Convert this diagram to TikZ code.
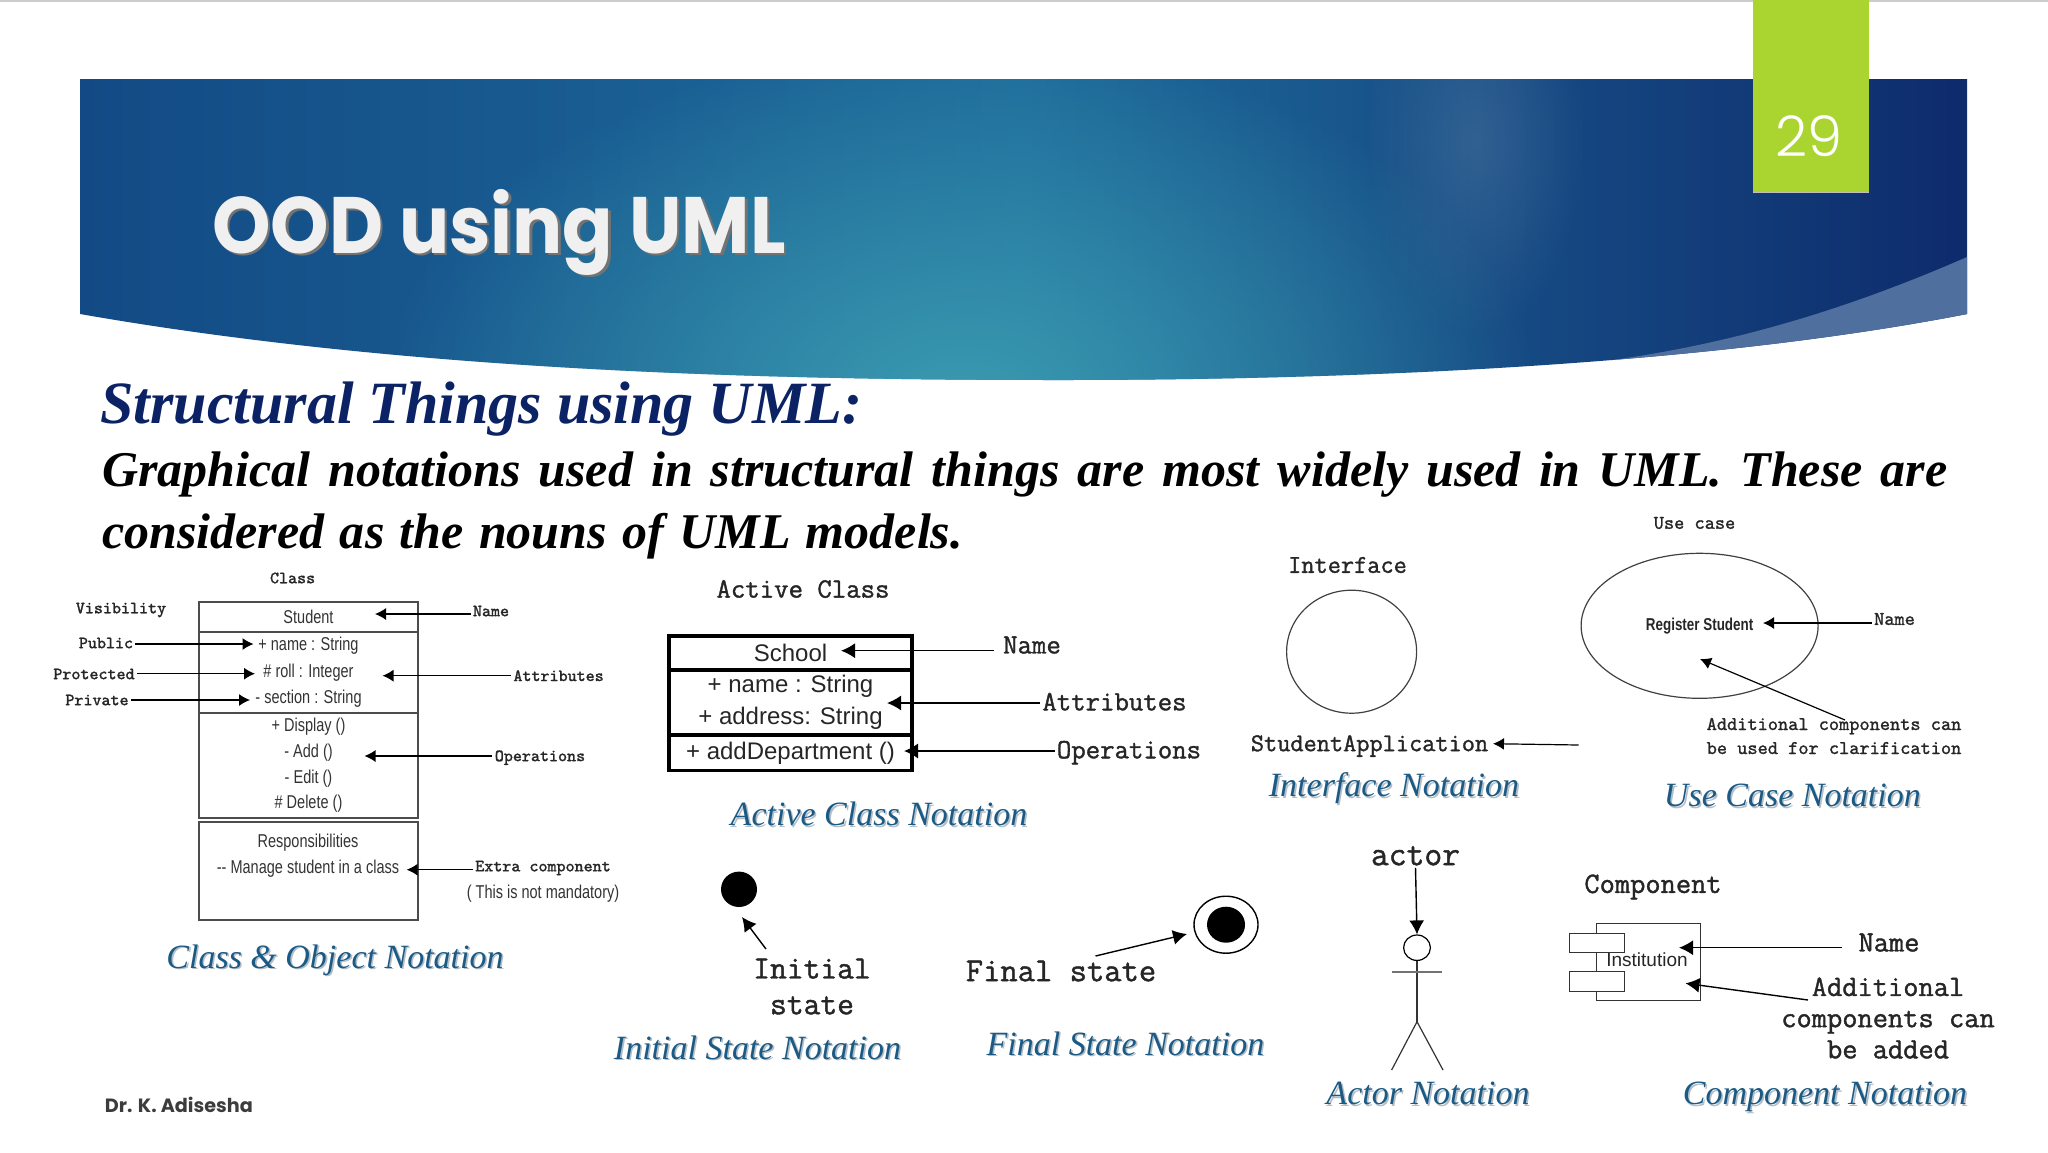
\documentclass[tikz,border=0pt]{standalone}
\usepackage{fontspec}
\usepackage{tikz}
\usetikzlibrary{arrows.meta,shapes.geometric,fadings}
\setmainfont{Liberation Serif}
\newfontfamily\umlsans[FakeStretch=0.78]{Liberation Sans}
\newfontfamily\plainsans{Liberation Sans}
\newfontfamily\umlmono[FakeBold=1.3]{Latin Modern Mono}
\newfontfamily\titlefont[FakeStretch=0.93]{Poppins}
\newfontfamily\footfont{Poppins}
\newfontfamily\numfont{Poppins Light}

\definecolor{bleft}{HTML}{134A85}
\definecolor{bmid}{HTML}{1E6C9C}
\definecolor{bright}{HTML}{0E2B6C}
\definecolor{bteal}{HTML}{3A9AB0}
\definecolor{bglow}{HTML}{6E8FB0}
\definecolor{swoosh}{HTML}{4F6F9F}
\definecolor{tabgreen}{HTML}{AAD531}
\definecolor{navy}{HTML}{0B2265}
\definecolor{capblue}{HTML}{1B5A84}
\definecolor{capshade}{HTML}{B4BEC6}
\definecolor{inkgrey}{HTML}{3C3C3C}

\newcommand{\dropped}[3]{\makebox[0pt][l]{\raisebox{-#1}{\kern#1\textcolor{#2}{#3}}}#3}
\newcommand{\capt}[1]{\dropped{.8pt}{capshade}{#1}}

\tikzfading[name=glowfade,inner color=transparent!0,outer color=transparent!100]

\tikzset{
	lbl/.style={font=\umlmono\fontsize{#1}{#1}\selectfont,inner sep=1pt,align=center,text=black!85},
	note/.style={font=\umlsans\fontsize{#1}{#1}\selectfont,inner sep=1pt,align=center,text=black!80},
	caption/.style={font=\itshape\fontsize{17}{17}\selectfont,text=capblue,inner sep=0pt},
	arr/.style={-{Latex[length=5.5pt,width=6pt]},line width=.6pt},
	bigarr/.style={-{Latex[length=7pt,width=7.5pt]},line width=.7pt},
	cbox/.style={draw=black!70,line width=.8pt,inner sep=0pt,minimum width=109.5pt,align=center,text=black!80},
	abox/.style={draw=black,line width=1.7pt,inner sep=0pt,minimum width=121.5pt,align=center,text=black!85,font=\plainsans\fontsize{12}{15.8}\selectfont},
	blob/.style={ellipse,inner sep=0pt},
	part/.style={draw=black!80,line width=.6pt,inner sep=0pt},
}

\begin{document}
\begin{tikzpicture}[x=0.5pt,y=-0.5pt]

	\useasboundingbox (0,0) rectangle (2048,1152);
	\fill[black!20] (0,0) rectangle (2048,2);

	\begin{scope}
		\clip (80,79) -- (1967,79) -- (1967,314) .. controls (1700,366) and (1350,380) .. (1060,380) .. controls (750,380) and (400,370) .. (80,314) -- cycle;
		\shade[left color=bleft,right color=bright,middle color=bmid] (80,79) rectangle (1967,380);
		\fill[bteal,path fading=glowfade] (960,400) ellipse [x radius=580,y radius=360];
		\fill[bglow,opacity=.3,path fading=glowfade] (1476,140) ellipse [x radius=110,y radius=200];
		\fill[swoosh] (1967,257) .. controls (1800,330) and (1650,365) .. (1476,372) -- (1967,372) -- cycle;
	\end{scope}

	\fill[black!25] (1753,0) rectangle (1869,193);
	\node[draw=none,fill=tabgreen,minimum width=58pt,minimum height=96pt,inner sep=0pt] (tab) at (1811,96) {};
	\node[font=\numfont\fontsize{28}{28}\selectfont,text=white,inner sep=0pt] (pagenum) at (1809,136) {29};
	\node[anchor=base west,font=\titlefont\bfseries\fontsize{40}{40}\selectfont,text=black!6,inner sep=0pt] (title) at (212,253) {\dropped{1.2pt}{black!55}{OOD using UML}};

	\node[anchor=base west,font=\bfseries\itshape\fontsize{30}{30}\selectfont,text=navy,inner sep=0pt] (heading) at (100,423) {Structural Things using UML:};
	\node[anchor=north west,font=\bfseries\itshape\fontsize{25}{31}\selectfont,text width=922.5pt,align=justify,inner sep=0pt] (body) at (102,451) {Graphical notations used in structural things are most widely used in UML. These are\linebreak {\spaceskip=7.7pt considered as the nouns of UML models.}};

	\node[lbl=8.6] (cclass) at (292.6,578) {Class};
	\node[lbl=8.6] (cvis) at (121,610) {Visibility};
	\node[cbox,minimum height=15pt,font=\umlsans\fontsize{9.3}{9.3}\selectfont] (cname) at (308.5,616.7) {Student};
	\node[cbox,minimum height=40.5pt,font=\umlsans\fontsize{9.3}{13.3}\selectfont] (cattr) at (308.5,672.2) {+ name : String\\\# roll : Integer\\- section : String};
	\node[cbox,minimum height=52.6pt,font=\umlsans\fontsize{9.3}{12.9}\selectfont] (cop) at (308.5,765.4) {+ Display ()\\- Add ()\\- Edit ()\\\# Delete ()};
	\node[cbox,minimum height=49pt] (crsp) at (308.5,871) {};
	\node[note=9.3,align=center] (crspa) at (308,843) {Responsibilities};
	\node[note=9.3] (crspb) at (308,869) {-- Manage student in a class};

	\node[lbl=8.6] (lname) at (491,611) {Name};
	\node[lbl=8.6] (lpub) at (106,643) {Public};
	\node[lbl=8.6] (lprot) at (94,674) {Protected};
	\node[lbl=8.6] (lpriv) at (97,700) {Private};
	\node[lbl=8.6] (lattr) at (558.6,675.7) {Attributes};
	\node[lbl=8.6] (lop) at (540,757.7) {Operations};
	\node[lbl=8.6] (lext) at (543,868) {Extra component};
	\node[note=9.3] (lmand) at (543,894) {( This is not mandatory)};
	\coordinate (hname) at (375,614);
	\coordinate (hpub) at (253.5,644);
	\coordinate (hprot) at (255,673.7);
	\coordinate (hpriv) at (250,700);
	\coordinate (hattr) at (382.5,675.7);
	\coordinate (hop) at (364.5,756);
	\coordinate (hext) at (406.6,869.7);
	\draw[arr] (lname.west |- hname) -- (hname);
	\draw[arr] (lpub.east |- hpub) -- (hpub);
	\draw[arr] (lprot.east |- hprot) -- (hprot);
	\draw[arr] (lpriv.east |- hpriv) -- (hpriv);
	\draw[arr] (lattr.west |- hattr) -- (hattr);
	\draw[arr] (lop.west |- hop) -- (hop);
	\draw[arr] (lext.west |- hext) -- (hext);
	\node[caption] (capclass) at (335,961) {\capt{Class \& Object Notation}};

	\node[lbl=14] (aclass) at (803,589) {Active Class};
	\node[abox,minimum height=17pt] (aname) at (790.5,653) {\raisebox{.7pt}{School}};
	\node[abox,minimum height=32.5pt] (aattr) at (790.5,702.5) {+ name : String\\+ address: String};
	\node[abox,minimum height=17.9pt] (aop) at (790.5,752.8) {\raisebox{-.6pt}{+ addDepartment ()}};
	\node[lbl=14] (alname) at (1032,645) {Name};
	\node[lbl=14] (alattr) at (1114.5,701.7) {Attributes};
	\node[lbl=14] (alop) at (1129,752.7) {Operations};
	\coordinate (haname) at (841,650.7);
	\coordinate (haattr) at (887,703);
	\coordinate (haop) at (904,751);
	\draw[bigarr] (994,650.7) coordinate (aname0) -- (haname);
	\draw[bigarr] (alattr.west |- haattr) -- (haattr);
	\draw[bigarr] (alop.west |- haop) -- (haop);
	\node[caption] (capactive) at (879,815) {\capt{Active Class Notation}};

	\node[lbl=12.8] (iface) at (1347.5,565) {Interface};
	\node[blob,draw=black!75,line width=.6pt,minimum width=65pt,minimum height=61.5pt] (icirc) at (1351.6,651.7) {};
	\node[lbl=12.8] (iapp) at (1369.5,746) {StudentApplication};
	\coordinate (iend) at (1578.7,745);
	\coordinate (hiapp) at (1493,743.7);
	\draw[arr] (iend) -- (hiapp);
	\node[caption] (capiface) at (1394,789) {\capt{Interface Notation}};

	\node[lbl=9.7] (ucase) at (1694.5,523) {Use case};
	\node[blob,draw=black!75,line width=.6pt,minimum width=118.5pt,minimum height=72.5pt,font=\umlsans\bfseries\fontsize{8.6}{8.6}\selectfont,text=black!85] (uell) at (1699.6,625.8) {Register Student};
	\node[lbl=9.7] (ulname) at (1894.5,619) {Name};
	\node[lbl=9.7] (uladd) at (1834,736) {Additional components can\\[2.3pt]be used for clarification};
	\coordinate (huname) at (1763,623);
	\coordinate (huadd) at (1700,659);
	\coordinate (uadd0) at (1845,720);
	\draw[arr] (ulname.west |- huname) -- (huname);
	\draw[arr] (uadd0) -- (huadd);
	\node[caption] (capuse) at (1792.4,796.5) {\capt{Use Case Notation}};

	\node[blob,fill=black,minimum width=18pt,minimum height=17.7pt] (idot) at (739,889.3) {};
	\node[lbl=16.3] (ilbl) at (812,986.5) {Initial\\[1.6pt]state};
	\coordinate (iarr0) at (766,949);
	\coordinate (hidot) at (742,917);
	\draw[bigarr] (iarr0) -- (hidot);
	\node[caption] (capinit) at (757.5,1048.5) {\capt{Initial State Notation}};

	\node[blob,draw=black,line width=.7pt,minimum width=32pt,minimum height=28.5pt] (fring) at (1226,924.7) {};
	\node[blob,fill=black,minimum width=19pt,minimum height=18pt] (fdot) at (1226,924.7) {};
	\node[lbl=16.8] (flbl) at (1061,971) {Final state};
	\coordinate (farr0) at (1095.5,956);
	\coordinate (hfdot) at (1187,934);
	\draw[bigarr] (farr0) -- (hfdot);
	\node[caption] (capfinal) at (1125.4,1044.5) {\capt{Final State Notation}};

	\node[lbl=17.3] (actor) at (1415.5,855.7) {actor};
	\node[blob,draw=black,line width=.6pt,minimum width=13.4pt,minimum height=12.7pt] (ahead) at (1417,947.7) {};
	\coordinate (ahip) at (1417,1021.7);
	\coordinate (aarml) at (1391.6,972);
	\coordinate (aarmr) at (1442,972);
	\coordinate (alegl) at (1391.6,1070);
	\coordinate (alegr) at (1443,1070);
	\draw[part] (ahead.south) -- (ahip);
	\draw[line width=1pt,black!55] (aarml) -- (aarmr);
	\draw[part] (alegl) -- (ahip) -- (alegr);
	\draw[bigarr] (actor.south) -- (ahead.north);
	\node[caption] (capactor) at (1428,1094.5) {\capt{Actor Notation}};

	\node[lbl=14.8] (compo) at (1653,887) {Component};
	\node[part,rectangle,minimum width=52pt,minimum height=38.7pt] (cmain) at (1648.8,962) {};
	\node[part,rectangle,fill=white,minimum width=27.4pt,minimum height=9.7pt] (cpa) at (1597,943) {};
	\node[part,rectangle,fill=white,minimum width=27.4pt,minimum height=9.7pt] (cpb) at (1597,981.4) {};
	\node[font=\plainsans\fontsize{9.5}{9.5}\selectfont,text=black!85,inner sep=0pt] (cinst) at (1647,960) {Institution};
	\node[lbl=14.8] (clname) at (1889,942.5) {Name};
	\node[lbl=14.8] (cladd) at (1888,1018) {Additional\\[.8pt]components can\\[.8pt]be added};
	\coordinate (hcname) at (1679,947.7);
	\coordinate (hcadd) at (1685.5,983.3);
	\coordinate (cadd0) at (1808,1000);
	\draw[bigarr] (1841.5,947.7) coordinate (cname0) -- (hcname);
	\draw[bigarr] (cadd0) -- (hcadd);
	\node[caption] (capcomp) at (1825,1098) {\capt{Component Notation}};

	\node[anchor=west,font=\footfont\bfseries\fontsize{9.6}{9.6}\selectfont,text=inkgrey,inner sep=0pt] (author) at (104.5,1105) {Dr. K. Adisesha};

\end{tikzpicture}
\end{document}
